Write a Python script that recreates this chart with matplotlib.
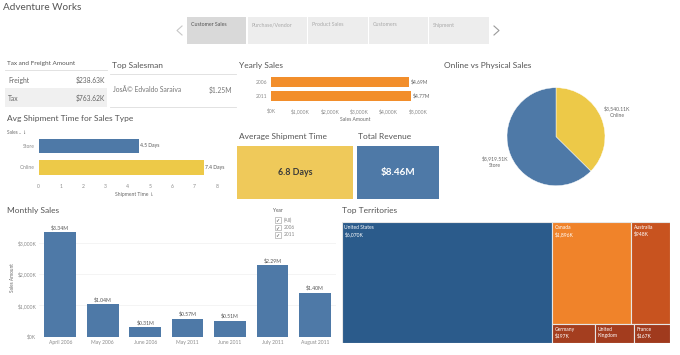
import matplotlib
matplotlib.use('Agg')
import numpy as np
import matplotlib.pyplot as plt
from matplotlib.patches import Rectangle
from matplotlib.lines import Line2D

plt.rcParams['font.family'] = ['Lato', 'DejaVu Sans']

# ---- data ----
nav_tabs = ['Customer Sales', 'Purchase/Vendor', 'Product Sales', 'Customers', 'Shipment']
active_tab = 'Customer Sales'

tax_labels = ['Freight', 'Tax']
tax_values = ['$238.63K', '$763.62K']

top_salesman = 'JosÃ© Edvaldo Saraiva'
top_salesman_amount = '$1.25M'

years = ['2006', '2011']
yearly_sales = [4690, 4770]          # $K
yearly_labels = ['$4.69M', '$4.77M']

sales_types = ['Store', 'Online']
ship_days = [4.5, 7.4]

avg_ship_time = 6.8
total_revenue = 8.46

pie_labels = ['Online', 'Store']
pie_values = [3540.11, 5919.51]      # $K

months = ['April 2006', 'May 2006', 'June 2006', 'May 2011', 'June 2011', 'July 2011', 'August 2011']
month_sales = [3340, 1040, 310, 570, 510, 2290, 1400]   # $K
year_filter = ['(All)', '2006', '2011']

territories = ['United States', 'Canada', 'Australia', 'Germany', 'United Kingdom', 'France']
terr_sales = [6070, 1896, 948, 197, 184, 167]           # $K
terr_colors = ['#2b5b8b', '#f0832a', '#c8531f', '#a43e1f', '#a33c1e', '#a03a1d']

BLUE = '#4e79a7'
YELLOW = '#edc948'
ORANGE = '#f28e2b'
TITLE = '#555555'
TICK = '#8a8a8a'
HEAD = 6.0   # section title size

W, H = 680, 355
fig = plt.figure(figsize=(W / 100, H / 100), dpi=100)


def fx(x):
    return x / W


def fy(y):
    return 1 - y / H


def box(x0, y0, x1, y1):
    return [x0 / W, 1 - y1 / H, (x1 - x0) / W, (y1 - y0) / H]


def ftext(x, y, s, **kw):
    kw.setdefault('va', 'center')
    kw.setdefault('color', TITLE)
    fig.text(fx(x), fy(y), s, **kw)


def fline(x0, x1, y0, y1, color='#dddddd', lw=0.6):
    fig.add_artist(Line2D([fx(x0), fx(x1)], [fy(y0), fy(y1)], color=color, lw=lw))


def frect(x0, y0, x1, y1, color):
    fig.add_artist(Rectangle((fx(x0), fy(y1)), (x1 - x0) / W, (y1 - y0) / H,
                             transform=fig.transFigure, facecolor=color, edgecolor='none'))


def clean(ax):
    for s in ax.spines.values():
        s.set_visible(False)
    ax.tick_params(length=0, colors=TICK, labelsize=3.6)


# ---- header ----
ftext(3, 7, 'Adventure Works', fontsize=7.2, color='#555555')

tab_x = [187, 248, 308, 369, 429]
tab_w = [59, 59, 60, 59, 60]
for name, x0, w in zip(nav_tabs, tab_x, tab_w):
    sel = name == active_tab
    frect(x0, 17, x0 + w, 44, '#d9d9d9' if sel else '#ededed')
    ftext(x0 + 4, 25, name, fontsize=3.8, color='#555555' if sel else '#aaaaaa')
fig.add_artist(Line2D([fx(182), fx(177), fx(182)], [fy(26), fy(30.5), fy(35)], color='#c8c8c8', lw=0.8))
fig.add_artist(Line2D([fx(494), fx(499), fx(494)], [fy(26), fy(30.5), fy(35)], color='#9a9a9a', lw=0.8))

# ---- tax and freight table ----
ftext(7, 63, 'Tax and Freight Amount', fontsize=4.6)
fline(5, 107, 69.5, 69.5)
frect(5, 88, 107, 107, '#f0f0f0')
for i, (lab, val) in enumerate(zip(tax_labels, tax_values)):
    y = 80.7 + i * 17.6
    ftext(8, y, lab, fontsize=4.9, color='#666666')
    ftext(105, y, val, fontsize=4.9, color='#666666', ha='right')

# ---- top salesman ----
ftext(112, 65.5, 'Top Salesman', fontsize=HEAD)
fline(110, 236, 73.7, 73.7)
ftext(113, 90, top_salesman, fontsize=4.9, color='#777777')
ftext(232, 90, top_salesman_amount, fontsize=4.9, color='#777777', ha='right')
fline(110, 236, 107.3, 107.3)

# ---- yearly sales ----
ftext(239, 65.5, 'Yearly Sales', fontsize=HEAD)
ax = fig.add_axes(box(271, 74.7, 438.6, 102.7))
ax.barh(range(len(years)), yearly_sales, height=0.72, color=ORANGE)
for i, (v, lab) in enumerate(zip(yearly_sales, yearly_labels)):
    ax.text(v + 60, i, lab, va='center', fontsize=3.6, color='#666666')
ax.set_ylim(len(years) - 0.5, -0.5)
ax.set_xlim(0, 5700)
ax.set_yticks(range(len(years)), years)
ax.set_xticks(range(0, 5001, 1000), [f'${v:,}K' for v in range(0, 5001, 1000)])
clean(ax)
ax.tick_params(axis='x', pad=4)
ax.tick_params(axis='y', pad=3)
ax.set_xlabel('Sales Amount', fontsize=3.6, color='#666666', labelpad=2)

# ---- avg shipment time for sales type ----
ftext(7, 118.3, 'Avg Shipment Time for Sales Type', fontsize=HEAD)
ftext(7, 132.7, 'Sales .. \u21c2', fontsize=3.4, color='#666666')
ax = fig.add_axes(box(38.5, 135.3, 230.3, 178))
ax.barh(range(len(sales_types)), ship_days, height=0.68, color=[BLUE, YELLOW])
for i, v in enumerate(ship_days):
    ax.text(v + 0.05, i, f'{v} Days', va='center', fontsize=3.6, color='#555555')
ax.set_ylim(len(sales_types) - 0.5, -0.5)
ax.set_xlim(0, 8.6)
ax.set_yticks(range(len(sales_types)), sales_types)
ax.set_xticks(range(0, 9))
clean(ax)
ax.tick_params(axis='x', pad=4)
ax.tick_params(axis='y', pad=3)
ax.set_xlabel('Shipment Time \u21c2', fontsize=3.6, color='#666666', labelpad=2.5)

# ---- KPI cards ----
ftext(239, 136.7, 'Average Shipment Time', fontsize=HEAD)
frect(237.3, 145.7, 353.3, 199, '#efc95a')
ftext(295.3, 172.5, f'{avg_ship_time} Days', fontsize=6.4, color='#3a3a3a', ha='center', fontweight='bold')
ftext(358.3, 136.7, 'Total Revenue', fontsize=HEAD)
frect(356.7, 145.7, 438.7, 199, BLUE)
ftext(397.7, 172.5, f'${total_revenue}M', fontsize=7.2, color='white', ha='center', fontweight='bold')

# ---- pie ----
ftext(444, 65.7, 'Online vs Physical Sales', fontsize=HEAD)
ax = fig.add_axes(box(507, 87.7, 605, 185.7))
wedges, _ = ax.pie(pie_values, colors=[YELLOW, BLUE], startangle=90, counterclock=False,
                   radius=1, wedgeprops=dict(edgecolor='white', linewidth=0.3))
for w, lab, v in zip(wedges, pie_labels, pie_values):
    mid = np.deg2rad((w.theta1 + w.theta2) / 2)
    ax.text(1.35 * np.cos(mid), 1.32 * np.sin(mid), f'${v:,.2f}K\n{lab}', ha='center', va='center',
            fontsize=3.7, color='#666666', linespacing=1.3)
ax.set_xlim(-1, 1)
ax.set_ylim(-1, 1)

# ---- monthly sales ----
ftext(7.3, 210.7, 'Monthly Sales', fontsize=HEAD)
ax = fig.add_axes(box(39, 220.8, 336.3, 336.7))
x = np.arange(len(months))
ax.bar(x, month_sales, width=0.745, color=BLUE, zorder=2)
for xi, v in zip(x, month_sales):
    ax.text(xi, v + 60, f'${v / 1000:.2f}M', ha='center', va='bottom', fontsize=3.7, color='#555555')
ax.set_xlim(-0.5, len(months) - 0.5)
ax.set_ylim(0, 3700)
ax.set_xticks(x, months)
ax.set_yticks(range(0, 3001, 1000), [f'${v:,}K' for v in range(0, 3001, 1000)])
ax.yaxis.grid(True, color='#f0f0f0', lw=0.5, zorder=0)
clean(ax)
ax.tick_params(axis='x', pad=2.5)
ax.tick_params(axis='y', pad=2)
fig.text(fx(12.7), fy(278), 'Sales Amount', rotation=90, fontsize=3.4, color='#666666', ha='center', va='center')

# year filter legend
ftext(272.7, 210.7, 'Year', fontsize=3.4, color='#555555')
for i, lab in enumerate(year_filter):
    y = 220 + i * 7.5
    fig.add_artist(Rectangle((fx(275), fy(y + 2.8)), 5.6 / W, 5.6 / H, transform=fig.transFigure,
                             facecolor='white', edgecolor='#999999', lw=0.4))
    ftext(277.8, y, '\u2713', fontsize=3.6, color='#444444', ha='center', family=['DejaVu Sans'])
    ftext(284, y, lab, fontsize=3.5, color='#888888')

# ---- treemap ----
ftext(341.7, 210.7, 'Top Territories', fontsize=HEAD)
ax = fig.add_axes(box(341.7, 221.7, 670, 343.3))
ax.set_xlim(0, 1)
ax.set_ylim(1, 0)
ax.axis('off')
total = sum(terr_sales)
rects = []
us_w = terr_sales[0] / total
rects.append((0, 0, us_w, 1))
rest = total - terr_sales[0]
row_groups = [[1, 2], [3, 4, 5]]
y0 = 0
for grp in row_groups:
    gsum = sum(terr_sales[i] for i in grp)
    rh = gsum / rest
    x0 = us_w
    for i in grp:
        cw = (1 - us_w) * terr_sales[i] / gsum
        rects.append((x0, y0, cw, rh))
        x0 += cw
    y0 += rh
for (rx, ry, rw, rh), name, v, c in zip(rects, territories, terr_sales, terr_colors):
    ax.add_patch(Rectangle((rx, ry), rw, rh, facecolor=c, edgecolor='#e6e6e6', lw=0.8))
    label = name.replace(' ', '\n') if name == 'United Kingdom' else f'{name}\n${v:,}K'
    ax.annotate(label, (rx, ry), xytext=(2, -2.5), textcoords='offset points', va='top', ha='left',
                fontsize=3.6, color='white', linespacing=1.25)

fig.savefig('out.png', dpi=100)
